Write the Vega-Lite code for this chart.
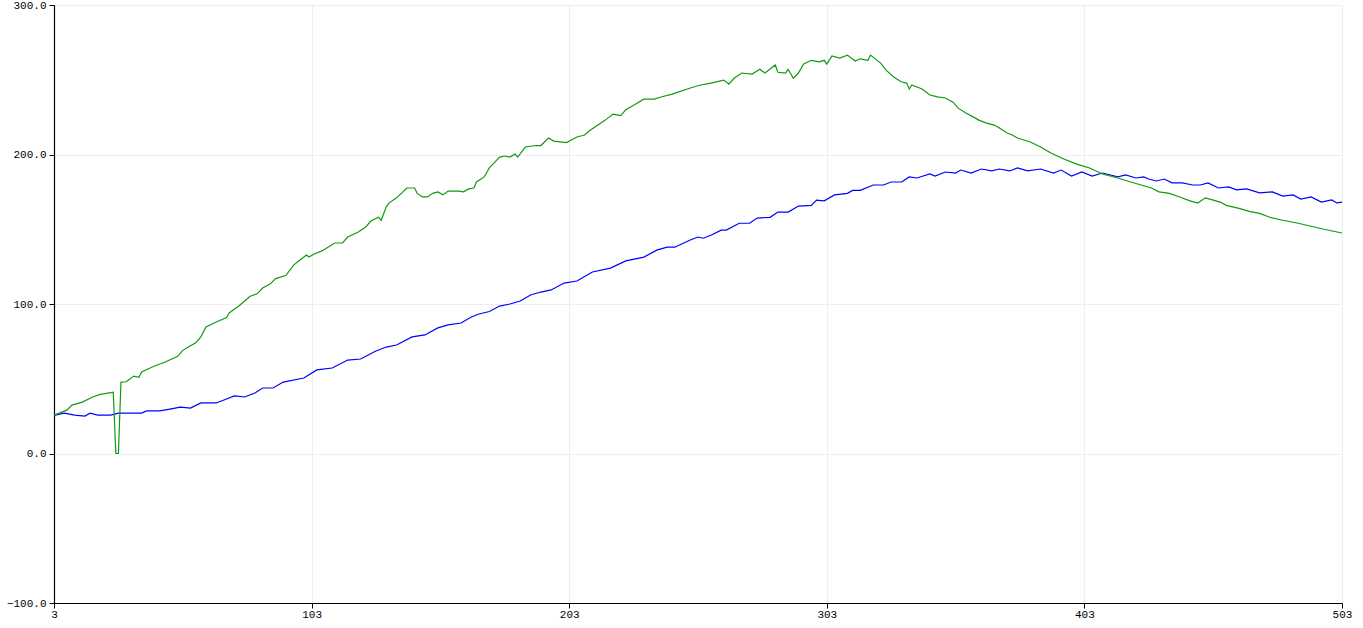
{
  "$schema": "https://vega.github.io/schema/vega-lite/v6.json",
  "width": 1288,
  "height": 598,
  "autosize": {"type": "none"},
  "padding": {"left": 54, "top": 5, "right": 21, "bottom": 25},
  "background": "white",
  "config": {"view": {"stroke": null}},
  "data": {"values": [
    {"x":3,"v":25.5,"s":"b"},{"x":7,"v":27,"s":"b"},{"x":11,"v":25.7,"s":"b"},{"x":15,"v":25,"s":"b"},{"x":17,"v":27,"s":"b"},{"x":20,"v":25.7,"s":"b"},{"x":25,"v":25.7,"s":"b"},{"x":28,"v":27,"s":"b"},{"x":33,"v":27,"s":"b"},{"x":37,"v":27,"s":"b"},{"x":39,"v":28.5,"s":"b"},{"x":44,"v":28.5,"s":"b"},{"x":48,"v":29.7,"s":"b"},{"x":52,"v":31,"s":"b"},{"x":56,"v":30.4,"s":"b"},{"x":60,"v":33.8,"s":"b"},{"x":66,"v":33.8,"s":"b"},{"x":69,"v":35.8,"s":"b"},{"x":73,"v":38.5,"s":"b"},{"x":77,"v":37.8,"s":"b"},{"x":81,"v":40.5,"s":"b"},{"x":84,"v":43.8,"s":"b"},{"x":88,"v":43.8,"s":"b"},{"x":92,"v":47.8,"s":"b"},{"x":100,"v":50.5,"s":"b"},{"x":105,"v":55.9,"s":"b"},{"x":111,"v":57.2,"s":"b"},{"x":117,"v":62.5,"s":"b"},{"x":122,"v":63.2,"s":"b"},{"x":128,"v":68.6,"s":"b"},{"x":132,"v":71.2,"s":"b"},{"x":136,"v":72.6,"s":"b"},{"x":142,"v":78,"s":"b"},{"x":147,"v":79.3,"s":"b"},{"x":152,"v":84,"s":"b"},{"x":156,"v":86,"s":"b"},{"x":161,"v":87.3,"s":"b"},{"x":165,"v":91.3,"s":"b"},{"x":168,"v":93.3,"s":"b"},{"x":172,"v":95,"s":"b"},{"x":176,"v":98.6,"s":"b"},{"x":180,"v":100,"s":"b"},{"x":184,"v":102,"s":"b"},{"x":188,"v":106,"s":"b"},{"x":192,"v":108,"s":"b"},{"x":196,"v":109.4,"s":"b"},{"x":201,"v":114,"s":"b"},{"x":206,"v":115.4,"s":"b"},{"x":212,"v":121.4,"s":"b"},{"x":219,"v":124,"s":"b"},{"x":225,"v":128.8,"s":"b"},{"x":232,"v":131.4,"s":"b"},{"x":237,"v":136,"s":"b"},{"x":241,"v":138,"s":"b"},{"x":244,"v":138,"s":"b"},{"x":250,"v":142.8,"s":"b"},{"x":253,"v":144.8,"s":"b"},{"x":255,"v":144,"s":"b"},{"x":258,"v":146,"s":"b"},{"x":262,"v":149.4,"s":"b"},{"x":264,"v":149.4,"s":"b"},{"x":269,"v":154,"s":"b"},{"x":273,"v":154,"s":"b"},{"x":276,"v":157.5,"s":"b"},{"x":281,"v":158,"s":"b"},{"x":284,"v":161.5,"s":"b"},{"x":288,"v":161.5,"s":"b"},{"x":292,"v":165.5,"s":"b"},{"x":297,"v":166,"s":"b"},{"x":299,"v":169.5,"s":"b"},{"x":302,"v":169,"s":"b"},{"x":306,"v":173,"s":"b"},{"x":311,"v":174,"s":"b"},{"x":313,"v":176,"s":"b"},{"x":316,"v":176,"s":"b"},{"x":321,"v":179.6,"s":"b"},{"x":325,"v":179.6,"s":"b"},{"x":328,"v":181.6,"s":"b"},{"x":332,"v":181.6,"s":"b"},{"x":335,"v":185,"s":"b"},{"x":338,"v":184.3,"s":"b"},{"x":343,"v":187,"s":"b"},{"x":345,"v":185.6,"s":"b"},{"x":349,"v":188.3,"s":"b"},{"x":353,"v":187.6,"s":"b"},{"x":355,"v":189.6,"s":"b"},{"x":359,"v":187.6,"s":"b"},{"x":363,"v":190.3,"s":"b"},{"x":367,"v":189,"s":"b"},{"x":370,"v":190.3,"s":"b"},{"x":374,"v":189,"s":"b"},{"x":377,"v":191,"s":"b"},{"x":381,"v":189,"s":"b"},{"x":386,"v":190.3,"s":"b"},{"x":391,"v":187.6,"s":"b"},{"x":394,"v":189.6,"s":"b"},{"x":398,"v":185.6,"s":"b"},{"x":402,"v":188.3,"s":"b"},{"x":406,"v":185.6,"s":"b"},{"x":410,"v":187.6,"s":"b"},{"x":416,"v":185,"s":"b"},{"x":419,"v":186.3,"s":"b"},{"x":423,"v":184.3,"s":"b"},{"x":426,"v":185,"s":"b"},{"x":428,"v":183.6,"s":"b"},{"x":431,"v":182.3,"s":"b"},{"x":434,"v":183.6,"s":"b"},{"x":437,"v":181,"s":"b"},{"x":441,"v":181,"s":"b"},{"x":445,"v":179.6,"s":"b"},{"x":448,"v":179.6,"s":"b"},{"x":451,"v":181,"s":"b"},{"x":455,"v":177.6,"s":"b"},{"x":459,"v":178.3,"s":"b"},{"x":462,"v":176.3,"s":"b"},{"x":466,"v":177,"s":"b"},{"x":471,"v":174.3,"s":"b"},{"x":476,"v":175,"s":"b"},{"x":480,"v":172.2,"s":"b"},{"x":484,"v":173,"s":"b"},{"x":487,"v":170.2,"s":"b"},{"x":491,"v":171.6,"s":"b"},{"x":495,"v":168.2,"s":"b"},{"x":499,"v":169.6,"s":"b"},{"x":501,"v":167.6,"s":"b"},{"x":503,"v":168.2,"s":"b"},
    {"x":3,"v":25.5,"s":"g"},{"x":5,"v":27,"s":"g"},{"x":8,"v":29,"s":"g"},{"x":10,"v":32.4,"s":"g"},{"x":14,"v":34.4,"s":"g"},{"x":18,"v":37.8,"s":"g"},{"x":21,"v":39.5,"s":"g"},{"x":26,"v":41,"s":"g"},{"x":27,"v":0,"s":"g"},{"x":28,"v":0,"s":"g"},{"x":29,"v":47.8,"s":"g"},{"x":31,"v":48,"s":"g"},{"x":34,"v":51.8,"s":"g"},{"x":36,"v":51,"s":"g"},{"x":37,"v":54.5,"s":"g"},{"x":42,"v":58.5,"s":"g"},{"x":46,"v":61,"s":"g"},{"x":51,"v":65,"s":"g"},{"x":53,"v":69,"s":"g"},{"x":55,"v":71,"s":"g"},{"x":58,"v":74,"s":"g"},{"x":60,"v":78,"s":"g"},{"x":62,"v":84.6,"s":"g"},{"x":66,"v":88,"s":"g"},{"x":70,"v":91,"s":"g"},{"x":71,"v":94,"s":"g"},{"x":75,"v":99,"s":"g"},{"x":79,"v":105,"s":"g"},{"x":82,"v":107,"s":"g"},{"x":84,"v":110.7,"s":"g"},{"x":87,"v":113.5,"s":"g"},{"x":89,"v":117,"s":"g"},{"x":93,"v":119,"s":"g"},{"x":96,"v":126,"s":"g"},{"x":98,"v":128.8,"s":"g"},{"x":101,"v":132.8,"s":"g"},{"x":102,"v":131.4,"s":"g"},{"x":104,"v":133.4,"s":"g"},{"x":107,"v":135.5,"s":"g"},{"x":112,"v":140.8,"s":"g"},{"x":115,"v":140.8,"s":"g"},{"x":117,"v":144.8,"s":"g"},{"x":121,"v":148,"s":"g"},{"x":124,"v":151.5,"s":"g"},{"x":126,"v":155.5,"s":"g"},{"x":129,"v":158,"s":"g"},{"x":130,"v":156,"s":"g"},{"x":132,"v":165,"s":"g"},{"x":133,"v":167.5,"s":"g"},{"x":136,"v":171,"s":"g"},{"x":140,"v":177.6,"s":"g"},{"x":143,"v":177.6,"s":"g"},{"x":144,"v":174,"s":"g"},{"x":146,"v":171.6,"s":"g"},{"x":148,"v":171.6,"s":"g"},{"x":150,"v":174,"s":"g"},{"x":152,"v":175,"s":"g"},{"x":154,"v":173,"s":"g"},{"x":156,"v":175.5,"s":"g"},{"x":160,"v":175.5,"s":"g"},{"x":162,"v":175,"s":"g"},{"x":164,"v":177,"s":"g"},{"x":166,"v":177.6,"s":"g"},{"x":167,"v":181.6,"s":"g"},{"x":170,"v":185,"s":"g"},{"x":172,"v":191,"s":"g"},{"x":176,"v":198.3,"s":"g"},{"x":178,"v":199,"s":"g"},{"x":180,"v":198.3,"s":"g"},{"x":182,"v":200.3,"s":"g"},{"x":183,"v":198.3,"s":"g"},{"x":186,"v":205,"s":"g"},{"x":190,"v":206,"s":"g"},{"x":192,"v":206,"s":"g"},{"x":195,"v":211,"s":"g"},{"x":197,"v":209,"s":"g"},{"x":202,"v":208,"s":"g"},{"x":206,"v":211.7,"s":"g"},{"x":209,"v":213,"s":"g"},{"x":211,"v":216,"s":"g"},{"x":217,"v":223,"s":"g"},{"x":220,"v":227,"s":"g"},{"x":223,"v":226,"s":"g"},{"x":225,"v":230,"s":"g"},{"x":228,"v":233,"s":"g"},{"x":232,"v":237,"s":"g"},{"x":236,"v":237,"s":"g"},{"x":239,"v":238.6,"s":"g"},{"x":243,"v":240.4,"s":"g"},{"x":250,"v":244.5,"s":"g"},{"x":254,"v":246.5,"s":"g"},{"x":258,"v":247.8,"s":"g"},{"x":263,"v":249.8,"s":"g"},{"x":265,"v":247,"s":"g"},{"x":267,"v":251,"s":"g"},{"x":270,"v":254.5,"s":"g"},{"x":274,"v":253.8,"s":"g"},{"x":277,"v":257,"s":"g"},{"x":279,"v":254.5,"s":"g"},{"x":283,"v":259.8,"s":"g"},{"x":284,"v":255,"s":"g"},{"x":287,"v":254.5,"s":"g"},{"x":288,"v":257,"s":"g"},{"x":290,"v":251,"s":"g"},{"x":292,"v":254.5,"s":"g"},{"x":294,"v":260.5,"s":"g"},{"x":297,"v":263,"s":"g"},{"x":300,"v":262,"s":"g"},{"x":302,"v":263,"s":"g"},{"x":303,"v":260.5,"s":"g"},{"x":305,"v":266,"s":"g"},{"x":308,"v":264.5,"s":"g"},{"x":311,"v":266.5,"s":"g"},{"x":314,"v":262.5,"s":"g"},{"x":316,"v":264,"s":"g"},{"x":319,"v":263,"s":"g"},{"x":320,"v":266.5,"s":"g"},{"x":324,"v":261,"s":"g"},{"x":326,"v":256.4,"s":"g"},{"x":329,"v":251.8,"s":"g"},{"x":332,"v":248.5,"s":"g"},{"x":334,"v":247.8,"s":"g"},{"x":335,"v":243.8,"s":"g"},{"x":336,"v":246.5,"s":"g"},{"x":340,"v":243.8,"s":"g"},{"x":343,"v":239.8,"s":"g"},{"x":346,"v":238.5,"s":"g"},{"x":349,"v":237.8,"s":"g"},{"x":352,"v":235,"s":"g"},{"x":354,"v":231,"s":"g"},{"x":357,"v":227.8,"s":"g"},{"x":360,"v":225,"s":"g"},{"x":362,"v":223,"s":"g"},{"x":365,"v":221,"s":"g"},{"x":368,"v":219.7,"s":"g"},{"x":370,"v":217.7,"s":"g"},{"x":373,"v":214.4,"s":"g"},{"x":375,"v":213,"s":"g"},{"x":377,"v":211,"s":"g"},{"x":382,"v":208.4,"s":"g"},{"x":386,"v":205,"s":"g"},{"x":390,"v":201,"s":"g"},{"x":395,"v":197,"s":"g"},{"x":400,"v":193.6,"s":"g"},{"x":405,"v":191,"s":"g"},{"x":410,"v":187,"s":"g"},{"x":416,"v":184.3,"s":"g"},{"x":421,"v":181.6,"s":"g"},{"x":425,"v":179.6,"s":"g"},{"x":429,"v":177.6,"s":"g"},{"x":432,"v":175,"s":"g"},{"x":436,"v":174,"s":"g"},{"x":440,"v":171.6,"s":"g"},{"x":444,"v":169,"s":"g"},{"x":447,"v":167.5,"s":"g"},{"x":450,"v":171,"s":"g"},{"x":452,"v":170,"s":"g"},{"x":456,"v":168,"s":"g"},{"x":458,"v":166,"s":"g"},{"x":463,"v":164,"s":"g"},{"x":467,"v":162,"s":"g"},{"x":471,"v":160.6,"s":"g"},{"x":475,"v":158,"s":"g"},{"x":480,"v":156,"s":"g"},{"x":486,"v":154,"s":"g"},{"x":491,"v":152,"s":"g"},{"x":496,"v":150,"s":"g"},{"x":503,"v":147.5,"s":"g"}
  ]},
  "mark": {"type": "line", "strokeWidth": 1.2, "interpolate": "linear"},
  "encoding": {
    "x": {
      "field": "x", "type": "quantitative",
      "scale": {"domain": [3, 503], "nice": false, "zero": false},
      "axis": {
        "title": null, "values": [3, 103, 203, 303, 403, 503], "format": "d",
        "domainColor": "#000000", "domainWidth": 1.2, "tickColor": "#000000", "tickSize": 5,
        "labelFont": "Liberation Mono", "labelFontSize": 11, "labelColor": "#000000",
        "labelPadding": 0, "labelFlush": false,
        "gridColor": "#eeeeee", "gridWidth": 1
      }
    },
    "y": {
      "field": "v", "type": "quantitative",
      "scale": {"domain": [-100, 300], "nice": false, "zero": false},
      "axis": {
        "title": null, "values": [-100, 0, 100, 200, 300], "format": ".1f",
        "domainColor": "#000000", "domainWidth": 1.2, "tickColor": "#000000", "tickSize": 5,
        "labelFont": "Liberation Mono", "labelFontSize": 11, "labelColor": "#000000",
        "labelPadding": 3,
        "gridColor": "#eeeeee", "gridWidth": 1
      }
    },
    "color": {
      "field": "s", "type": "nominal",
      "scale": {"domain": ["b", "g"], "range": ["#0000ff", "#109910"]},
      "legend": null
    }
  }
}
